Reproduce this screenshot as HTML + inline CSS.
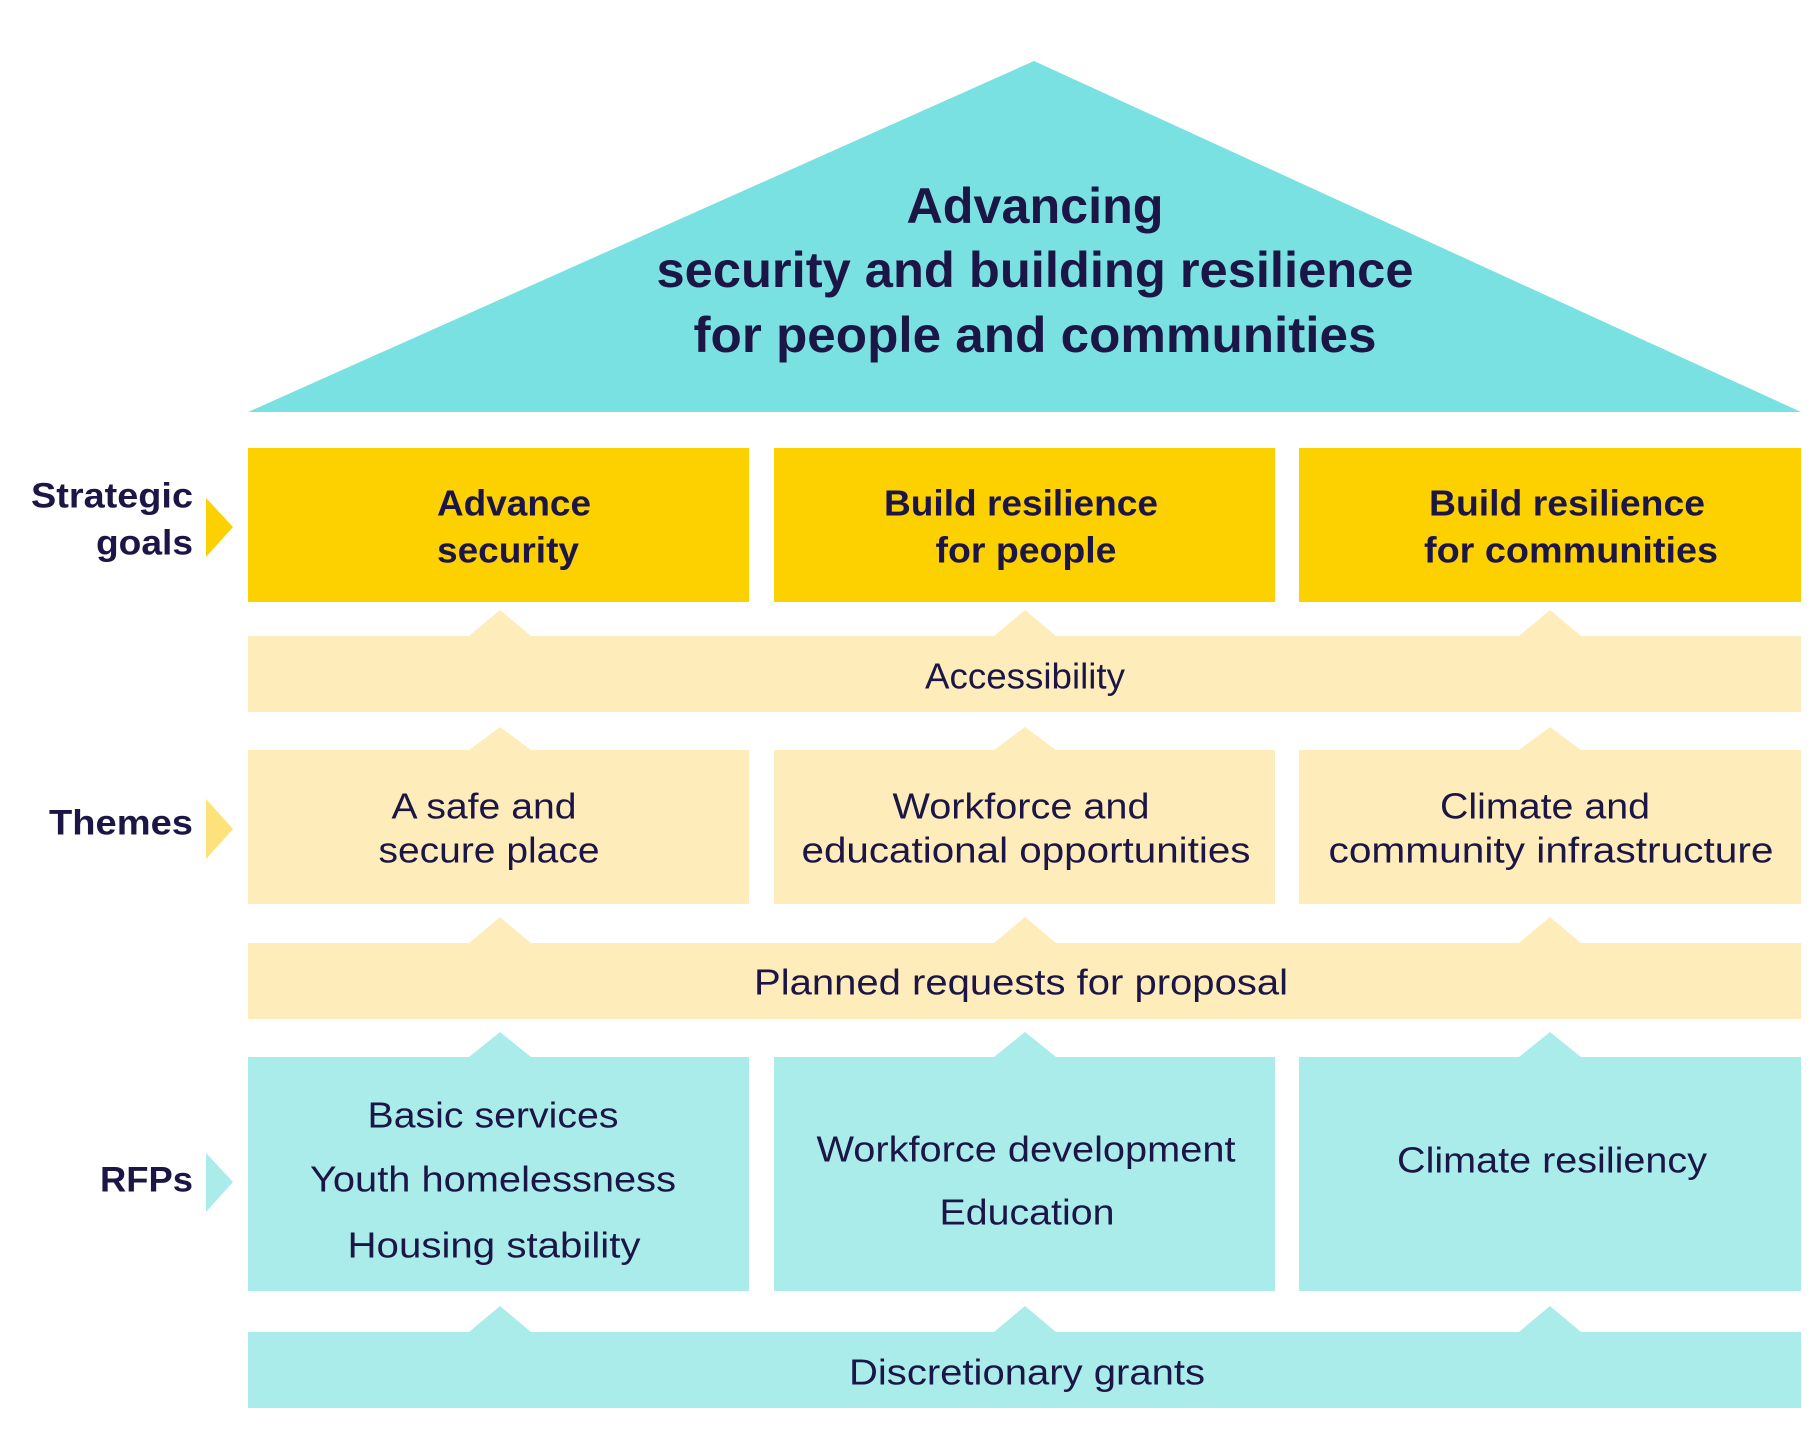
<!DOCTYPE html>
<html><head><meta charset="utf-8"><style>
html,body{margin:0;padding:0;background:#fff;}
svg{display:block;}
text{font-family:"Liberation Sans",sans-serif;fill:#1c1646;}
.b{font-weight:bold;}
</style></head><body>
<svg width="1813" height="1432" viewBox="0 0 1813 1432" xmlns="http://www.w3.org/2000/svg">
<polygon points="248,412 1034,61 1801,412" fill="#79e1e1"/>
<g font-size="50" text-anchor="middle" dominant-baseline="central" lengthAdjust="spacingAndGlyphs">
<text x="1035" y="206" class="b" textLength="257" lengthAdjust="spacingAndGlyphs">Advancing</text>
<text x="1035" y="270" class="b" textLength="757" lengthAdjust="spacingAndGlyphs">security and building resilience</text>
<text x="1035" y="335" class="b" textLength="683" lengthAdjust="spacingAndGlyphs">for people and communities</text>
</g>
<g fill="#fdd000">
<rect x="248" y="448" width="501" height="154"/>
<rect x="774" y="448" width="501" height="154"/>
<rect x="1299" y="448" width="502" height="154"/>
</g>
<g fill="#feecba">
<rect x="248" y="636" width="1553" height="76"/>
<polygon points="469,636 500,610 531,636"/><polygon points="994,636 1025,610 1056,636"/><polygon points="1519,636 1550,610 1581,636"/>
<rect x="248" y="750" width="501" height="154"/>
<rect x="774" y="750" width="501" height="154"/>
<rect x="1299" y="750" width="502" height="154"/>
<polygon points="469,750 500,727 531,750"/><polygon points="994,750 1025,727 1056,750"/><polygon points="1519,750 1550,727 1581,750"/>
<rect x="248" y="943" width="1553" height="76"/>
<polygon points="469,943 500,917 531,943"/><polygon points="994,943 1025,917 1056,943"/><polygon points="1519,943 1550,917 1581,943"/>
</g>
<g fill="#a9ecea">
<rect x="248" y="1057" width="501" height="234"/>
<rect x="774" y="1057" width="501" height="234"/>
<rect x="1299" y="1057" width="502" height="234"/>
<polygon points="469,1057 500,1032 531,1057"/><polygon points="994,1057 1025,1032 1056,1057"/><polygon points="1519,1057 1550,1032 1581,1057"/>
<rect x="248" y="1332" width="1553" height="76"/>
<polygon points="469,1332 500,1306 531,1332"/><polygon points="994,1332 1025,1306 1056,1332"/><polygon points="1519,1332 1550,1306 1581,1332"/>
</g>
<polygon points="206,498 233,527 206,557" fill="#fdd000"/>
<polygon points="206,799 233,829 206,859" fill="#fde17a"/>
<polygon points="206,1153 233,1182 206,1212" fill="#a9ecea"/>
<g font-size="35" text-anchor="end" dominant-baseline="central">
<text x="193" y="496" class="b" textLength="162" lengthAdjust="spacingAndGlyphs">Strategic</text>
<text x="193" y="543" class="b" textLength="97" lengthAdjust="spacingAndGlyphs">goals</text>
<text x="193" y="823" class="b" textLength="144" lengthAdjust="spacingAndGlyphs">Themes</text>
<text x="193" y="1180" class="b" textLength="93" lengthAdjust="spacingAndGlyphs">RFPs</text>
</g>
<g font-size="36" text-anchor="middle" dominant-baseline="central">
<text x="514" y="503" class="b" textLength="154" lengthAdjust="spacingAndGlyphs">Advance</text>
<text x="508" y="550" class="b" textLength="142" lengthAdjust="spacingAndGlyphs">security</text>
<text x="1021" y="503" class="b" textLength="274" lengthAdjust="spacingAndGlyphs">Build resilience</text>
<text x="1026" y="550" class="b" textLength="181" lengthAdjust="spacingAndGlyphs">for people</text>
<text x="1567" y="503" class="b" textLength="276" lengthAdjust="spacingAndGlyphs">Build resilience</text>
<text x="1571" y="550" class="b" textLength="294" lengthAdjust="spacingAndGlyphs">for communities</text>
</g>
<g font-size="36" text-anchor="middle" dominant-baseline="central">
<text x="1025" y="676" textLength="200" lengthAdjust="spacingAndGlyphs">Accessibility</text>
<text x="484" y="806" textLength="185" lengthAdjust="spacingAndGlyphs">A safe and</text>
<text x="489" y="850" textLength="221" lengthAdjust="spacingAndGlyphs">secure place</text>
<text x="1021" y="806" textLength="257" lengthAdjust="spacingAndGlyphs">Workforce and</text>
<text x="1026" y="850" textLength="449" lengthAdjust="spacingAndGlyphs">educational opportunities</text>
<text x="1545" y="806" textLength="210" lengthAdjust="spacingAndGlyphs">Climate and</text>
<text x="1551" y="850" textLength="445" lengthAdjust="spacingAndGlyphs">community infrastructure</text>
<text x="1021" y="982" textLength="534" lengthAdjust="spacingAndGlyphs">Planned requests for proposal</text>
<text x="493" y="1115" textLength="251" lengthAdjust="spacingAndGlyphs">Basic services</text>
<text x="493" y="1179" textLength="366" lengthAdjust="spacingAndGlyphs">Youth homelessness</text>
<text x="494" y="1245" textLength="293" lengthAdjust="spacingAndGlyphs">Housing stability</text>
<text x="1026" y="1149" textLength="419" lengthAdjust="spacingAndGlyphs">Workforce development</text>
<text x="1027" y="1212" textLength="175" lengthAdjust="spacingAndGlyphs">Education</text>
<text x="1552" y="1160" textLength="310" lengthAdjust="spacingAndGlyphs">Climate resiliency</text>
<text x="1027" y="1372" textLength="356" lengthAdjust="spacingAndGlyphs">Discretionary grants</text>
</g>
</svg>
</body></html>
